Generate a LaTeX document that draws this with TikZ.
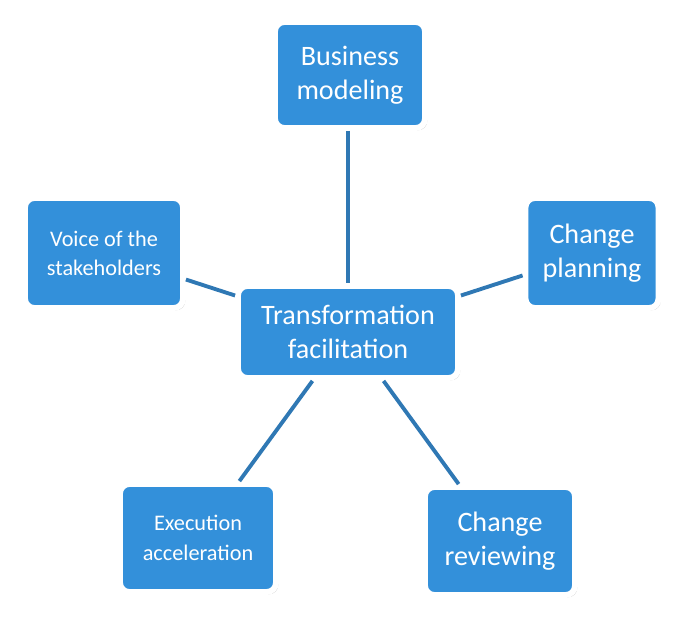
\documentclass[tikz,border=0pt]{standalone}
\usepackage{fontspec}
\setmainfont{Carlito}
\usetikzlibrary{shadows}
\definecolor{boxblue}{HTML}{3390DA}
\definecolor{lineblue}{HTML}{2F78B4}
\begin{document}
\begin{tikzpicture}[x=0.03cm,y=-0.03cm,
  box/.style={fill=boxblue,draw=white,line width=5pt,rounded corners=8pt,
    text=white,align=center,inner sep=0pt,drop shadow={opacity=0.35,shadow xshift=2pt,shadow yshift=-2pt},font=\fontsize{24}{29}\selectfont},
  small/.style={font=\fontsize{19}{25}\selectfont},
  link/.style={draw=lineblue,line width=3.3pt}]
\useasboundingbox (0,0) rectangle (675,623);
\node[box,minimum width=150*0.03cm,minimum height=106*0.03cm] (bm) at (350,75) {Business\\modeling};
\node[box,small,minimum width=158*0.03cm,minimum height=110*0.03cm] (vs) at (104,253) {Voice of the\\stakeholders};
\node[box,minimum width=133*0.03cm,minimum height=110*0.03cm] (cp) at (592,253) {Change\\planning};
\node[box,minimum width=220*0.03cm,minimum height=92*0.03cm] (tf) at (348,332) {Transformation\\facilitation};
\node[box,small,minimum width=156*0.03cm,minimum height=108*0.03cm] (ea) at (198,538) {Execution\\acceleration};
\node[box,minimum width=150*0.03cm,minimum height=108*0.03cm] (cr) at (500,541) {Change\\reviewing};
\draw[link] (bm.south -| 348,0) -- (tf.north -| 348,0);
\draw[link] (vs) -- (tf);
\draw[link] (cp) -- (tf);
\draw[link] (ea) -- (tf);
\draw[link] (cr) -- (tf);
\end{tikzpicture}
\end{document}
